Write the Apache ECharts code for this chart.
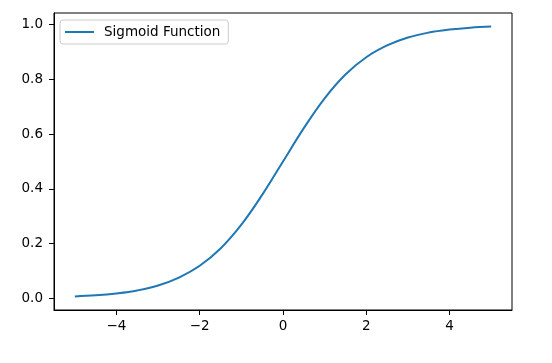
<!DOCTYPE html>
<html>
<head>
<meta charset="utf-8">
<script src="https://cdn.jsdelivr.net/npm/echarts@6/dist/echarts.min.js"></script>
<style>html,body{margin:0;padding:0;background:#fff}#c{width:552px;height:363px}</style>
</head>
<body>
<div id="c"></div>
<script>
const seriesName = 'Sigmoid Function';
const xValues = [-5, -4.5, -4, -3.5, -3, -2.5, -2, -1.5, -1, -0.5, 0, 0.5, 1, 1.5, 2, 2.5, 3, 3.5, 4, 4.5, 5];
const yValues = [0.007, 0.011, 0.018, 0.029, 0.047, 0.076, 0.119, 0.182, 0.269, 0.378, 0.5, 0.622, 0.731, 0.818, 0.881, 0.924, 0.953, 0.971, 0.982, 0.989, 0.993];
const xTicks = [-4, -2, 0, 2, 4];
const yTicks = [0, 0.2, 0.4, 0.6, 0.8, 1.0];

const font = 'DejaVu Sans';
const fs = 13.5;
const chart = echarts.init(document.getElementById('c'), null, {renderer: 'canvas'});
chart.setOption({
  animation: false,
  backgroundColor: '#fff',
  grid: {left: 54, right: 40, top: 13, bottom: 53, show: true, borderColor: '#000', borderWidth: 1, backgroundColor: 'transparent'},
  legend: {
    show: true, left: 60, top: 20, orient: 'vertical',
    borderColor: '#cccccc', borderWidth: 1, borderRadius: 3,
    padding: [5, 8, 5, 5], itemWidth: 29, itemHeight: 2, icon: 'rect',
    itemStyle: {color: '#1f77b4'},
    textStyle: {fontFamily: font, fontSize: fs, color: '#000', padding: [0, 0, 0, 5]},
    data: [{name: seriesName}]
  },
  xAxis: {
    type: 'value', min: -5.5, max: 5.5,
    splitLine: {show: false},
    axisLine: {show: true, onZero: false, lineStyle: {color: '#000', width: 1}},
    axisTick: {show: true, length: 5, lineStyle: {color: '#000', width: 1}, customValues: xTicks},
    axisLabel: {customValues: xTicks, margin: 9, fontFamily: font, fontSize: fs, color: '#000',
      formatter: v => String(v).replace('-', '\u2212')}
  },
  yAxis: {
    type: 'value', min: -0.0426, max: 1.0426,
    splitLine: {show: false},
    axisLine: {show: true, onZero: false, lineStyle: {color: '#000', width: 1}},
    axisTick: {show: true, length: 5, lineStyle: {color: '#000', width: 1}, customValues: yTicks},
    axisLabel: {customValues: yTicks, margin: 11, fontFamily: font, fontSize: fs, color: '#000',
      formatter: v => v.toFixed(1)}
  },
  series: [{
    name: seriesName, type: 'line', symbol: 'none', smooth: 0.4,
    lineStyle: {color: '#1f77b4', width: 2},
    itemStyle: {color: '#1f77b4'},
    data: xValues.map((x, i) => [x, yValues[i]])
  }]
});
</script>
</body>
</html>
